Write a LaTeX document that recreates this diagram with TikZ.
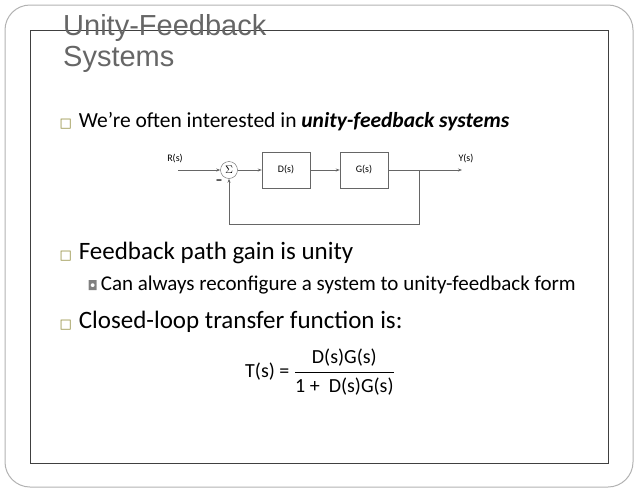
\documentclass[tikz,border=0pt]{standalone}
\usepackage{fontspec}
\setmainfont{Carlito}
\newfontfamily\titlefont{Liberation Sans}
\newfontfamily\symfont{DejaVu Sans}
\usetikzlibrary{arrows.meta}
\tikzset{blk/.style={draw=gray!80!black,minimum width=48pt,minimum height=36pt,font=\fontsize{10}{11}\selectfont},
 lab/.style={font=\fontsize{10}{11}\selectfont},
 sig/.style={draw=gray!80!black,line width=0.8pt},
 bul/.style={anchor=west,font=\fontsize{#1}{#1}\selectfont}}
\begin{document}
\begin{tikzpicture}[x=1pt,y=-1pt]
\useasboundingbox (0,0) rectangle (638,493);
\draw[gray!60,line width=1pt,rounded corners=25pt] (5,5) rectangle (633,487);
\draw[black!75,line width=1pt] (30,30) rectangle (608,463);
\node[anchor=north west,inner sep=0,text=black!60,font=\titlefont\fontsize{29}{31}\selectfont,align=left] (title) at (63,14) {Unity-Feedback\\Systems};
\node[bul=21.5] (b1) at (56,122) {\textcolor{olive!60!gray}{\fontsize{13}{13}\selectfont\symfont □}\hspace{7pt}We’re often interested in \textbf{\textit{unity-feedback systems}}};
\node[circle,draw=gray!80!black,minimum size=17pt,inner sep=0,font=\fontsize{11}{11}\selectfont] (sum) at (229,170) {$\Sigma$};
\node[blk] (D) at (286,170) {D(s)};
\node[blk] (G) at (364,170) {G(s)};
\coordinate (in) at (178,170);
\coordinate (out) at (462,170);
\coordinate (br) at (419,170);
\node[lab] (R) at (175,159) {R(s)};
\node[lab] (Y) at (466,159) {Y(s)};
\node[font=\bfseries\fontsize{14}{14}\selectfont] (minus) at (219,182) {–};
\draw[sig,-{Stealth[length=4pt]}] (in) -- (sum);
\draw[sig,-{Stealth[length=4pt]}] (sum) -- (D);
\draw[sig,-{Stealth[length=4pt]}] (D) -- (G);
\draw[sig,-{Stealth[length=4pt]}] (G) -- (out);
\draw[sig,-{Stealth[length=4pt]}] (br) -- (419,224) -| (sum.south);
\node[bul=25] (b2) at (56,253) {\textcolor{olive!60!gray}{\fontsize{13}{13}\selectfont\symfont □}\hspace{7pt}Feedback path gain is unity};
\node[bul=21] (b3) at (84,285) {\textcolor{gray}{\fontsize{13}{13}\selectfont\symfont ◘}\hspace{3pt}Can always reconfigure a system to unity-feedback form};
\node[bul=25] (b4) at (56,322) {\textcolor{olive!60!gray}{\fontsize{13}{13}\selectfont\symfont □}\hspace{7pt}Closed-loop transfer function is:};
\node[font=\fontsize{20}{20}\selectfont] (eq) at (320,372) {T(s) = $\displaystyle\frac{\hbox{D(s)G(s)}}{\hbox{1 +\ \ D(s)G(s)}}$};
\end{tikzpicture}
\end{document}
